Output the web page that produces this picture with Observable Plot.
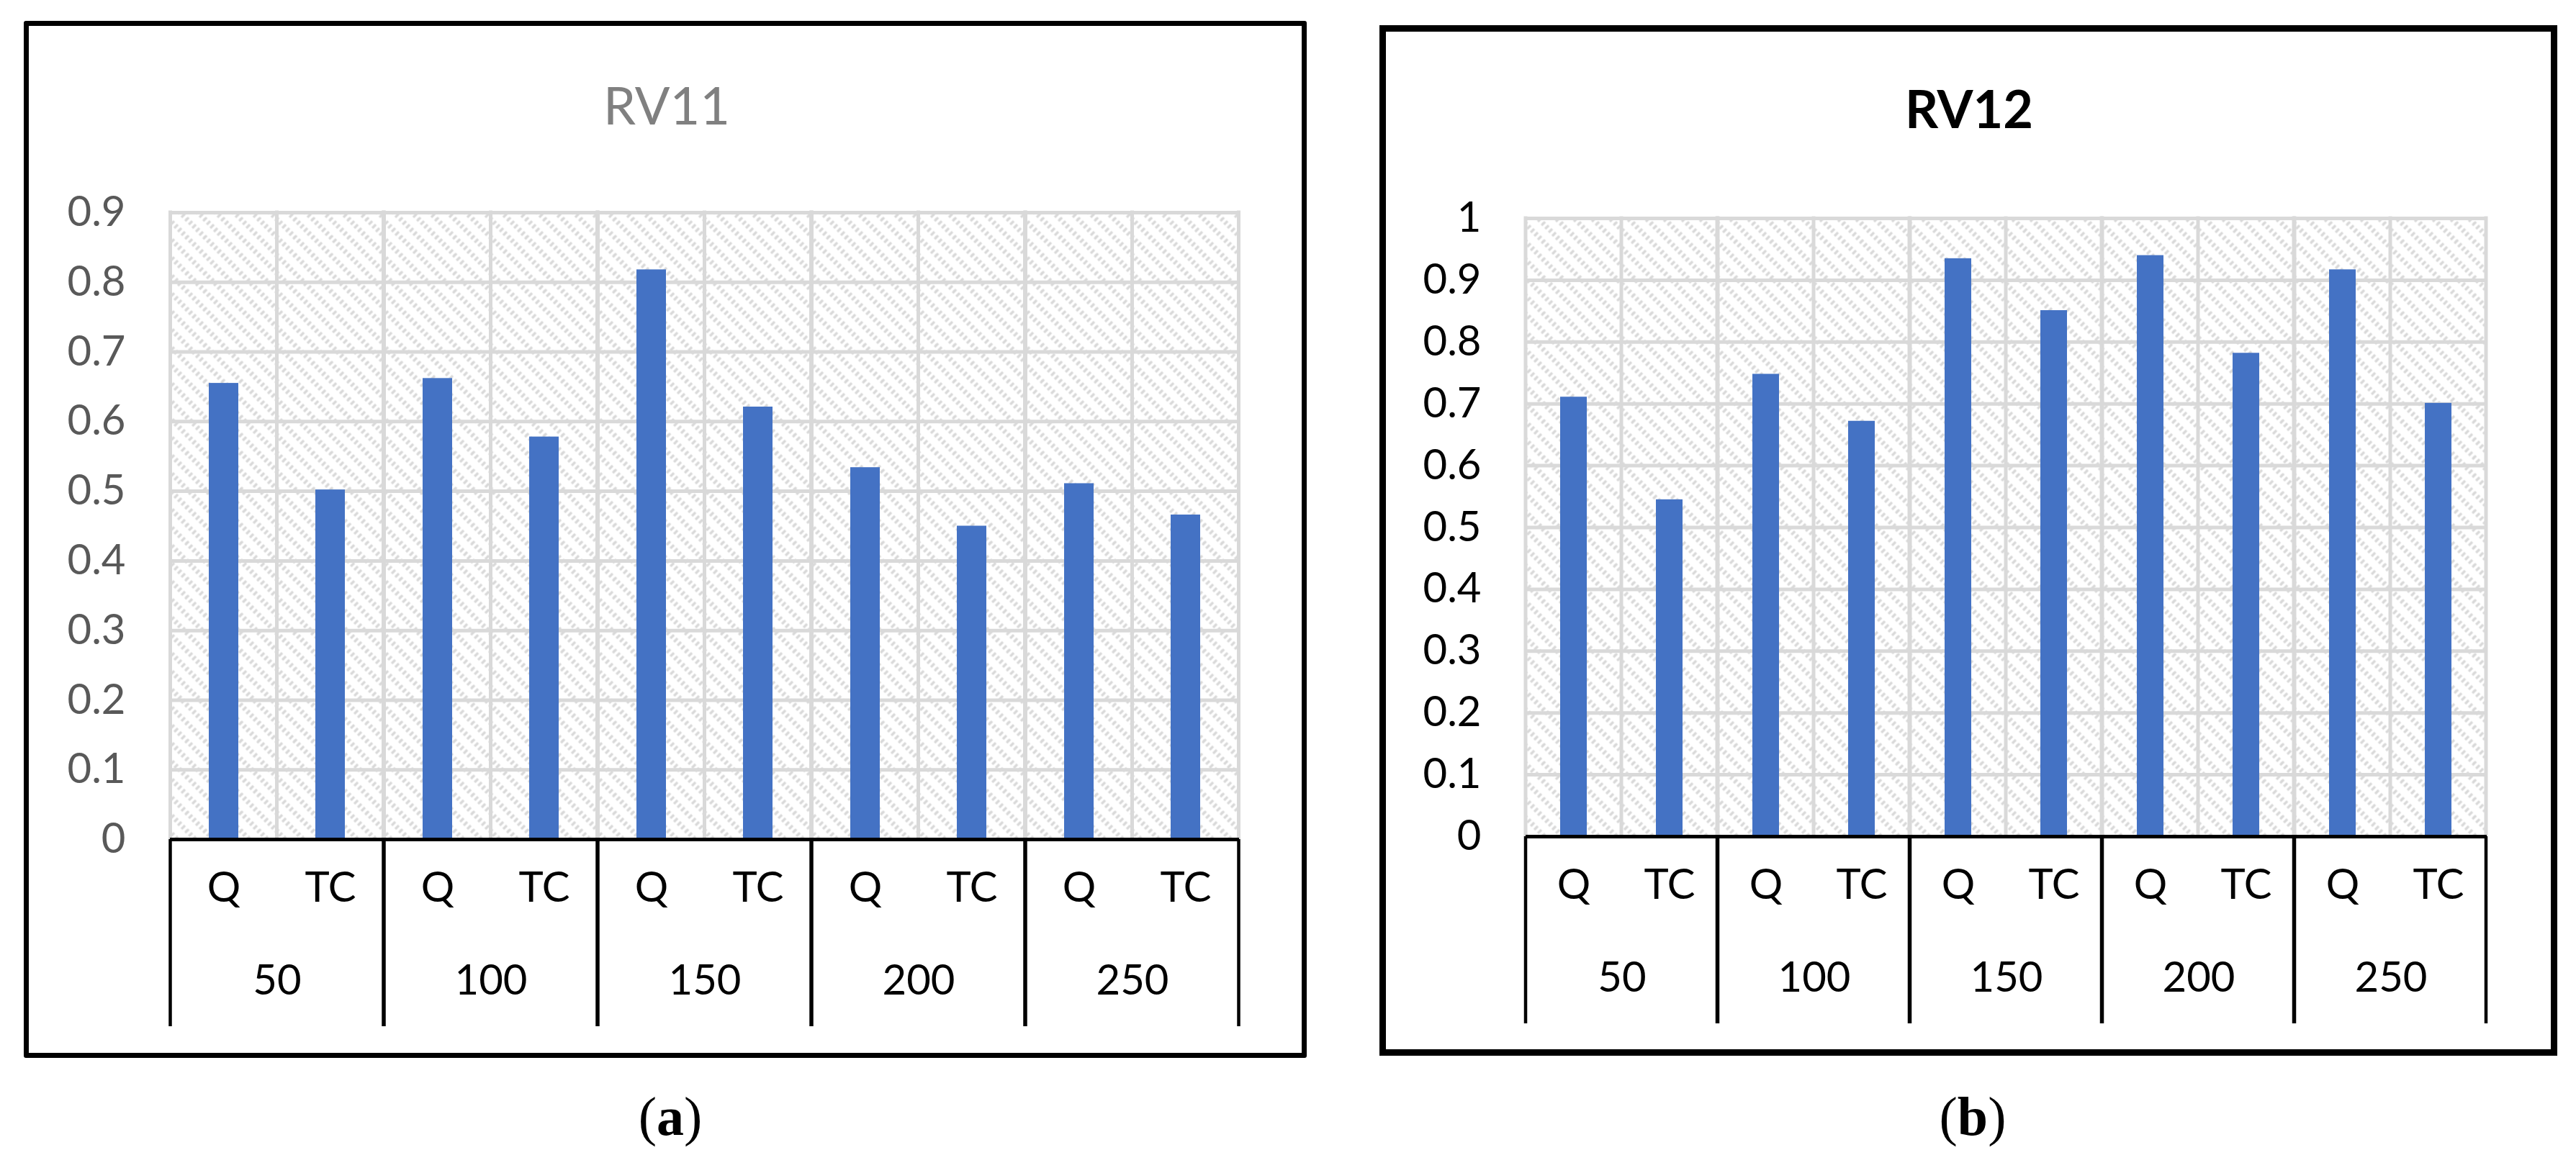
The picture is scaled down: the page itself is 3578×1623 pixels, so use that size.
<!DOCTYPE html>
<html>
<head>
<meta charset="utf-8">
<script src="https://cdn.jsdelivr.net/npm/d3@7"></script>
<script src="https://cdn.jsdelivr.net/npm/@observablehq/plot@0.6"></script>
<style>
  html, body { margin: 0; padding: 0; background: #fff; }
  #root { position: relative; width: 3578px; height: 1623px; background: #fff; overflow: hidden; }
  .panel { position: absolute; box-sizing: border-box; border-style: solid; border-color: #000; pointer-events: none; }
  .chart { position: absolute; }
  .title { position: absolute; transform: translateX(-50%); white-space: nowrap; line-height: 1; font-family: Lato, "Open Sans", sans-serif; }
  .cap { position: absolute; transform: translateX(-50%); white-space: nowrap; line-height: 1; font-family: "Liberation Serif", "DejaVu Serif", serif; font-size: 76px; color: #000; }
</style>
</head>
<body>
<svg width="0" height="0" style="position:absolute">
  <defs>
    <pattern id="hatch" patternUnits="userSpaceOnUse" width="25" height="25">
      <path d="M-6,-6 L31,31 M-6,19 L6,31 M19,-6 L31,6" stroke="#d9d9d9" stroke-width="7" stroke-dasharray="3.5 3.5" fill="none"/>
    </pattern>
  </defs>
</svg>
<div id="root"></div>
<script>
// ---- data ----
const groups = [50, 100, 150, 200, 250];
const types = ["Q", "TC"];
const rv11Q  = [0.655, 0.662, 0.818, 0.534, 0.511];
const rv11TC = [0.502, 0.578, 0.621, 0.450, 0.466];
const rv12Q  = [0.711, 0.748, 0.935, 0.940, 0.917];
const rv12TC = [0.545, 0.672, 0.851, 0.782, 0.701];
const yTicks11 = [0, 0.1, 0.2, 0.3, 0.4, 0.5, 0.6, 0.7, 0.8, 0.9];
const yTicks12 = [0, 0.1, 0.2, 0.3, 0.4, 0.5, 0.6, 0.7, 0.8, 0.9, 1];

function rowsOf(qs, tcs) {
  return groups.flatMap((g, i) => [
    {group: g, type: types[0], value: qs[i]},
    {group: g, type: types[1], value: tcs[i]}
  ]);
}

// draws the cell grid lines and the black category separators, using the x band scale
function cellLines(...args) {
  const scales = args.find(a => a && typeof a === "object" && typeof a.x === "function");
  const dims = args.find(a => a && typeof a === "object" && "marginLeft" in a && "width" in a);
  const x = scales.x;
  const step = x.step ? x.step() : x.bandwidth() / 0.28;
  const bw = x.bandwidth();
  const dom = x.domain();
  const bounds = dom.map(k => x(k) - (step - bw) / 2);
  bounds.push(bounds[bounds.length - 1] + step);
  const top = dims.marginTop, bottom = dims.height - dims.marginBottom;
  const g = d3.create("svg:g");
  for (const b of bounds) {
    g.append("line").attr("x1", b).attr("x2", b).attr("y1", top - 2.5).attr("y2", bottom)
      .attr("stroke", "#d9d9d9").attr("stroke-width", 5);
  }
  for (const b of [bounds[0], bounds[bounds.length - 1]]) {
    g.append("line").attr("x1", b).attr("x2", b).attr("y1", bottom).attr("y2", bottom + 260)
      .attr("stroke", "#000").attr("stroke-width", 4.5);
  }
  return g.node();
}

function makeChart(cfg) {
  const rows = rowsOf(cfg.q, cfg.tc);
  return Plot.plot({
    width: cfg.width, height: cfg.height,
    marginLeft: cfg.ml, marginRight: cfg.mr, marginTop: cfg.mt, marginBottom: cfg.mb,
    style: {background: "transparent", fontFamily: "Lato", overflow: "visible", maxWidth: "none"},
    fx: {domain: groups, padding: 0, axis: null},
    x: {domain: types, paddingInner: 0.72, paddingOuter: 0.36, axis: null},
    y: {domain: cfg.ydomain, axis: null},
    marks: [
      Plot.frame({fill: "url(#hatch)", stroke: "none"}),
      Plot.gridY(cfg.ticks, {stroke: "#d9d9d9", strokeWidth: 5, strokeOpacity: 1}),
      cellLines,
      Plot.barY(rows, {fx: "group", x: "type", y: "value", fill: "#4472c4"}),
      Plot.ruleY([0], {stroke: "#000", strokeWidth: 5}),
      Plot.axisY(cfg.ticks, {anchor: "left", tickSize: 0, tickPadding: 62, fontSize: 58, color: cfg.tickColor, tickFormat: d => String(d), label: null}),
      Plot.text(rows, {fx: "group", x: "type", text: "type", frameAnchor: "bottom", dy: 86, fontSize: 58, fill: "#000"}),
      Plot.text(groups, {fx: d => d, text: d => String(d), frameAnchor: "bottom", dy: 215, fontSize: 58, fill: "#000"})
    ]
  });
}

const root = document.getElementById("root");

function place(el, left, top) {
  el.classList.add("chart");
  el.style.left = left + "px";
  el.style.top = top + "px";
  root.appendChild(el);
}

const chartA = makeChart({q: rv11Q, tc: rv11TC, width: 1782, height: 1441, ml: 202, mr: 93, mt: 266, mb: 304,
  ydomain: [0, 0.9], ticks: yTicks11, tickColor: "#595959"});
place(chartA, 33, 29);

const chartB = makeChart({q: rv12Q, tc: rv12TC, width: 1636, height: 1432, ml: 201, mr: 96, mt: 268, mb: 305,
  ydomain: [0, 1], ticks: yTicks12, tickColor: "#000"});
place(chartB, 1916, 35);

function addDiv(cls, html, styles) {
  const d = document.createElement("div");
  d.className = cls;
  d.innerHTML = html;
  Object.assign(d.style, styles);
  root.appendChild(d);
}

addDiv("panel", "", {left: "33px", top: "29px", width: "1782px", height: "1441px", borderWidth: "7px", borderRadius: "3px"});
addDiv("panel", "", {left: "1916px", top: "35px", width: "1636px", height: "1432px", borderWidth: "9px"});

addDiv("title", "RV11", {left: "926px", top: "109px", fontSize: "72px", color: "#808080", fontWeight: "400"});
addDiv("title", "RV12", {left: "2735px", top: "114px", fontSize: "72px", color: "#000", fontWeight: "700"});

addDiv("cap", "(<b>a</b>)", {left: "931px", top: "1513px"});
addDiv("cap", "(<b>b</b>)", {left: "2740px", top: "1513px"});
</script>
</body>
</html>
